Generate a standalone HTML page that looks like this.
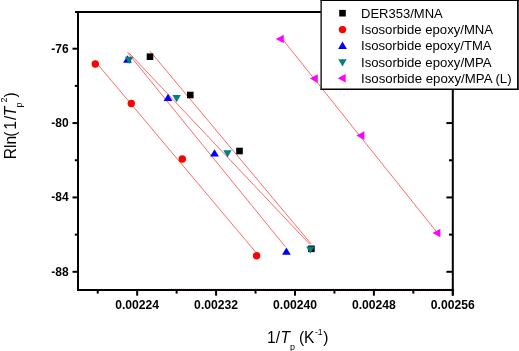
<!DOCTYPE html>
<html><head><meta charset="utf-8"><title>Kissinger plot</title>
<style>
html,body{margin:0;padding:0;background:#fff;}
body{width:519px;height:351px;overflow:hidden;}
svg{display:block;font-family:"Liberation Sans",sans-serif;}
.tk{font-weight:bold;font-size:12px;fill:#000;}
.lg{font-size:12.2px;fill:#000;}
.ax{stroke:#000;stroke-width:2;fill:none;}
.fit{stroke:#ff2a2a;stroke-width:0.7;fill:none;}
</style></head><body>
<svg width="519" height="351" viewBox="0 0 519 351">
<rect x="0" y="0" width="519" height="351" fill="#fff"/>
<line class="fit" x1="149.9" y1="51.0" x2="311.2" y2="244.0"/>
<line class="fit" x1="96.8" y1="63.3" x2="255.6" y2="252.0"/>
<line class="fit" x1="127.5" y1="52.5" x2="285.6" y2="247.1"/>
<line class="fit" x1="128.9" y1="52.8" x2="309.7" y2="244.2"/>
<line class="fit" x1="281.0" y1="37.3" x2="437.0" y2="232.4"/>
<rect x="146.70" y="53.40" width="6.60" height="6.60" fill="#000"/>
<rect x="187.00" y="91.70" width="6.60" height="6.60" fill="#000"/>
<rect x="236.20" y="147.70" width="6.60" height="6.60" fill="#000"/>
<rect x="308.10" y="245.50" width="6.60" height="6.60" fill="#000"/>
<circle cx="95.30" cy="64.00" r="3.70" fill="#f00"/>
<circle cx="131.30" cy="103.50" r="3.70" fill="#f00"/>
<circle cx="182.30" cy="159.00" r="3.70" fill="#f00"/>
<circle cx="256.60" cy="255.80" r="3.70" fill="#f00"/>
<polygon points="127.50,55.31 123.10,62.71 131.90,62.71" fill="#00f"/>
<polygon points="168.00,93.71 163.60,101.11 172.40,101.11" fill="#00f"/>
<polygon points="214.50,149.21 210.10,156.61 218.90,156.61" fill="#00f"/>
<polygon points="286.40,247.41 282.00,254.81 290.80,254.81" fill="#00f"/>
<polygon points="129.10,63.98 124.90,56.78 133.30,56.78" fill="#008080"/>
<polygon points="176.60,102.18 172.40,94.98 180.80,94.98" fill="#008080"/>
<polygon points="227.50,157.48 223.30,150.28 231.70,150.28" fill="#008080"/>
<polygon points="310.30,253.58 306.10,246.38 314.50,246.38" fill="#008080"/>
<polygon points="275.86,39.00 283.76,34.70 283.76,43.30" fill="#f0f"/>
<polygon points="309.86,78.60 317.76,74.30 317.76,82.90" fill="#f0f"/>
<polygon points="356.46,135.60 364.36,131.30 364.36,139.90" fill="#f0f"/>
<polygon points="432.46,233.00 440.36,228.70 440.36,237.30" fill="#f0f"/>
<line x1="169" y1="288.8" x2="452" y2="288.8" stroke="#f00" stroke-width="0.6" stroke-dasharray="1 1" opacity="0.35"/>
<line class="ax" x1="75" y1="12.0" x2="453.8" y2="12.0"/>
<line class="ax" x1="78.0" y1="12.0" x2="78.0" y2="291.0"/>
<line class="ax" x1="77.0" y1="290.0" x2="453.8" y2="290.0"/>
<line class="ax" x1="452.8" y1="12.0" x2="452.8" y2="295.5"/>
<line class="ax" x1="72.5" y1="271.80" x2="78.0" y2="271.80"/>
<line class="ax" x1="446.4" y1="271.80" x2="452.8" y2="271.80"/>
<text class="tk" x="68.6" y="275.60" text-anchor="end">-88</text>
<line class="ax" x1="74.8" y1="234.62" x2="78.0" y2="234.62"/>
<line class="ax" x1="449.0" y1="234.62" x2="452.8" y2="234.62"/>
<line class="ax" x1="72.5" y1="197.44" x2="78.0" y2="197.44"/>
<line class="ax" x1="446.4" y1="197.44" x2="452.8" y2="197.44"/>
<text class="tk" x="68.6" y="201.24" text-anchor="end">-84</text>
<line class="ax" x1="74.8" y1="160.25" x2="78.0" y2="160.25"/>
<line class="ax" x1="449.0" y1="160.25" x2="452.8" y2="160.25"/>
<line class="ax" x1="72.5" y1="123.07" x2="78.0" y2="123.07"/>
<line class="ax" x1="446.4" y1="123.07" x2="452.8" y2="123.07"/>
<text class="tk" x="68.6" y="126.87" text-anchor="end">-80</text>
<line class="ax" x1="74.8" y1="85.88" x2="78.0" y2="85.88"/>
<line class="ax" x1="449.0" y1="85.88" x2="452.8" y2="85.88"/>
<line class="ax" x1="72.5" y1="48.70" x2="78.0" y2="48.70"/>
<line class="ax" x1="446.4" y1="48.70" x2="452.8" y2="48.70"/>
<text class="tk" x="68.6" y="52.50" text-anchor="end">-76</text>
<line class="ax" x1="97.73" y1="290.0" x2="97.73" y2="293.6"/>
<line class="ax" x1="137.18" y1="290.0" x2="137.18" y2="295.7"/>
<text class="tk" x="137.18" y="309.1" text-anchor="middle" textLength="43.9" lengthAdjust="spacingAndGlyphs">0.00224</text>
<line class="ax" x1="176.63" y1="290.0" x2="176.63" y2="293.6"/>
<line class="ax" x1="216.08" y1="290.0" x2="216.08" y2="295.7"/>
<text class="tk" x="216.08" y="309.1" text-anchor="middle" textLength="43.9" lengthAdjust="spacingAndGlyphs">0.00232</text>
<line class="ax" x1="255.54" y1="290.0" x2="255.54" y2="293.6"/>
<line class="ax" x1="294.99" y1="290.0" x2="294.99" y2="295.7"/>
<text class="tk" x="294.99" y="309.1" text-anchor="middle" textLength="43.9" lengthAdjust="spacingAndGlyphs">0.00240</text>
<line class="ax" x1="334.44" y1="290.0" x2="334.44" y2="293.6"/>
<line class="ax" x1="373.89" y1="290.0" x2="373.89" y2="295.7"/>
<text class="tk" x="373.89" y="309.1" text-anchor="middle" textLength="43.9" lengthAdjust="spacingAndGlyphs">0.00248</text>
<line class="ax" x1="413.35" y1="290.0" x2="413.35" y2="293.6"/>
<line class="ax" x1="452.80" y1="290.0" x2="452.80" y2="295.7"/>
<text class="tk" x="452.80" y="309.1" text-anchor="middle" textLength="43.9" lengthAdjust="spacingAndGlyphs">0.00256</text>
<rect x="321" y="0" width="197" height="89" fill="#fff"/>
<line x1="320.4" y1="0.5" x2="518.7" y2="0.5" stroke="#000" stroke-width="1"/>
<line x1="320.4" y1="89.25" x2="518.7" y2="89.25" stroke="#000" stroke-width="1.7"/>
<line x1="321.15" y1="0" x2="321.15" y2="89.8" stroke="#222" stroke-width="1.5"/>
<line x1="517.9" y1="0" x2="517.9" y2="89.8" stroke="#000" stroke-width="1.7"/>
<rect x="339.20" y="9.90" width="6.60" height="6.60" fill="#000"/>
<text class="lg" x="361" y="17.5" textLength="81.8" lengthAdjust="spacingAndGlyphs">DER353/MNA</text>
<circle cx="342.50" cy="29.60" r="3.70" fill="#f00"/>
<text class="lg" x="361" y="33.9" textLength="132.1" lengthAdjust="spacingAndGlyphs">Isosorbide epoxy/MNA</text>
<polygon points="342.50,41.51 338.10,48.91 346.90,48.91" fill="#00f"/>
<text class="lg" x="361" y="50.1" textLength="130.6" lengthAdjust="spacingAndGlyphs">Isosorbide epoxy/TMA</text>
<polygon points="342.50,66.48 338.30,59.28 346.70,59.28" fill="#008080"/>
<text class="lg" x="361" y="66.6" textLength="130.6" lengthAdjust="spacingAndGlyphs">Isosorbide epoxy/MPA</text>
<polygon points="337.76,78.30 345.66,74.00 345.66,82.60" fill="#f0f"/>
<text class="lg" x="361" y="82.6" textLength="150.6" lengthAdjust="spacingAndGlyphs">Isosorbide epoxy/MPA (L)</text>
<text x="267" y="343.1" font-size="15.6" fill="#000">1/<tspan font-style="italic" dx="0.4">T</tspan><tspan font-size="9.0" dy="7.1">p</tspan><tspan dy="-7.1" dx="-0.4"> (K</tspan><tspan font-size="8.7" dy="-8.5" dx="0.4">-1</tspan><tspan dy="8.5" dx="0.7">)</tspan></text>
<g transform="translate(15.8,159.2) rotate(-90)"><text x="0" y="0" font-size="15.6" fill="#000">Rln<tspan dx="-1">(</tspan><tspan dx="1.8">1</tspan><tspan dx="1.2">/</tspan><tspan font-style="italic" dx="-0.6">T</tspan><tspan font-size="9.0" dy="6.2" dx="-0.8">p</tspan><tspan font-size="9.0" dy="-15.4">2</tspan><tspan dy="9.2">)</tspan></text></g>
</svg>
</body></html>
